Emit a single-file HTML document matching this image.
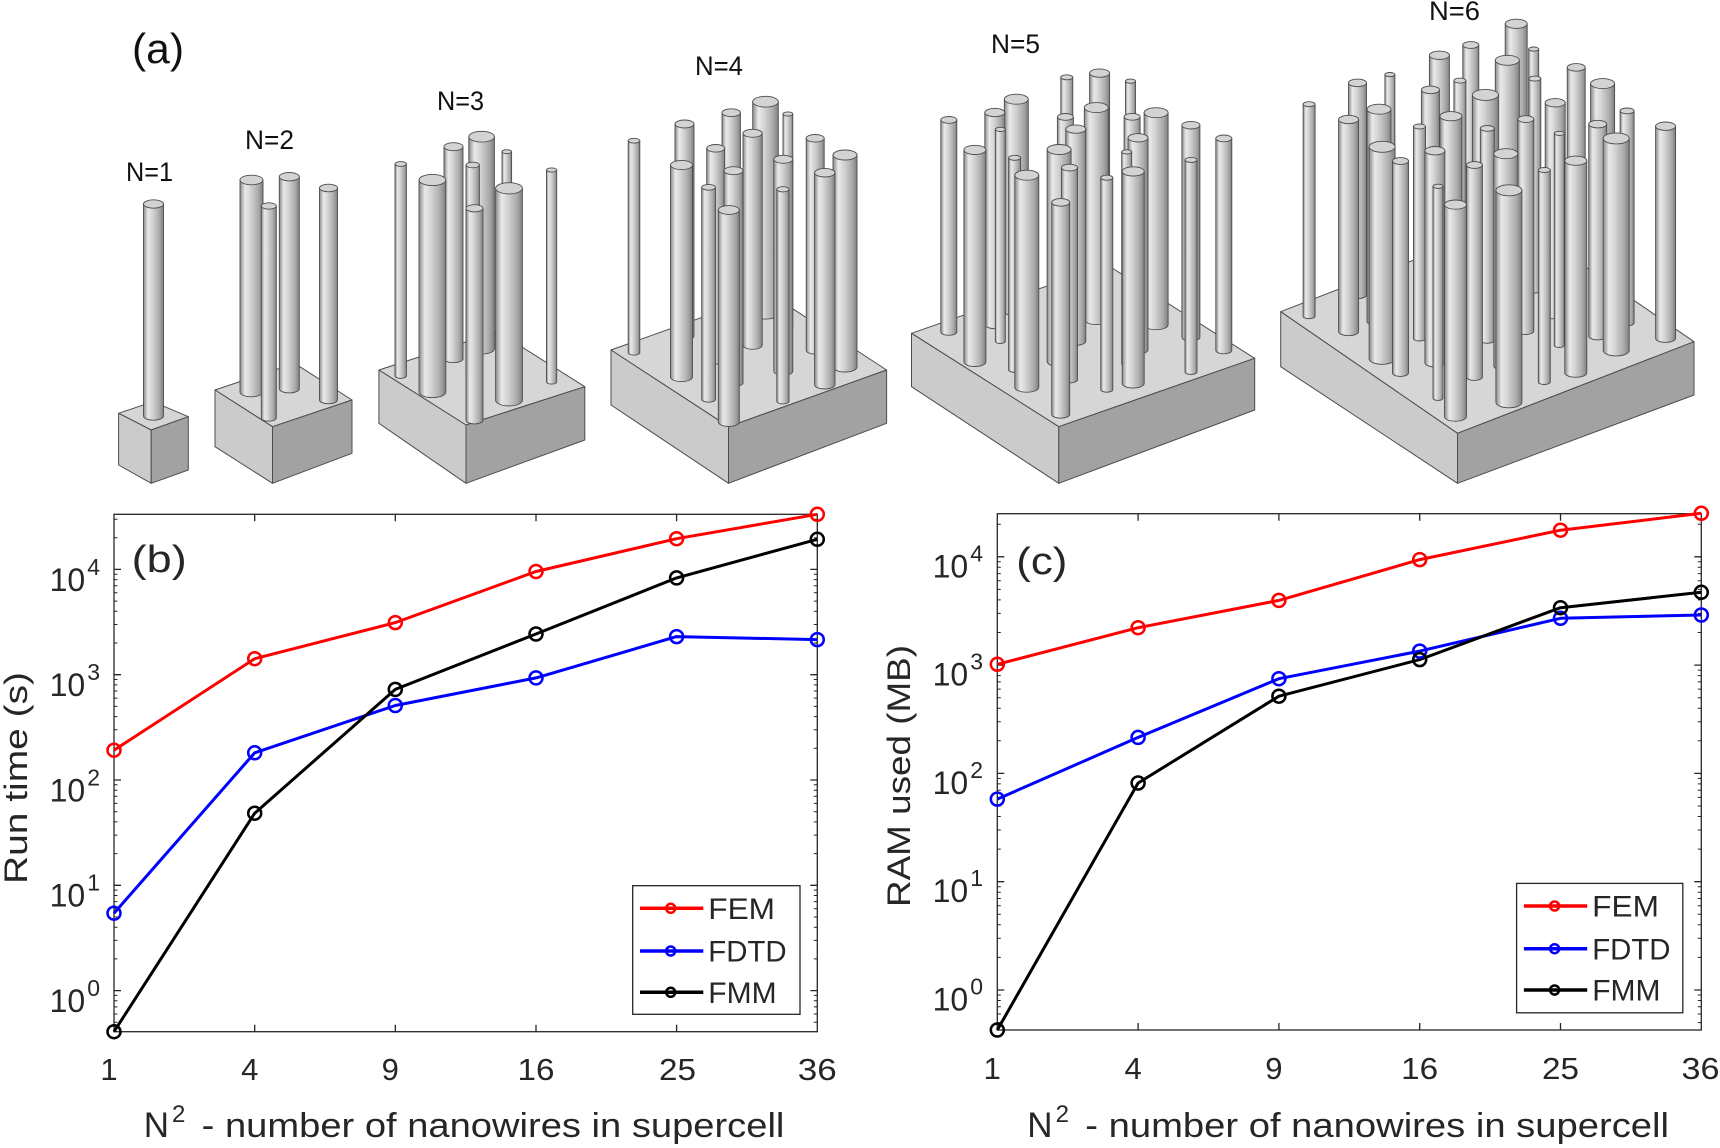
<!DOCTYPE html>
<html>
<head>
<meta charset="utf-8">
<style>
html,body{margin:0;padding:0;background:#fff;}
svg{display:block;}
.c{fill:url(#cyl);stroke:#4d4d4d;stroke-width:0.9}
.e{fill:#d3d3d3;stroke:#4d4d4d;stroke-width:0.9}
.bt{fill:#d6d6d6}
.bl{fill:#cbcbcb}
.br{fill:#a2a2a2}
.box polygon{stroke:#4d4d4d;stroke-width:1;stroke-linejoin:round}
text{font-family:"Liberation Sans",Arial,sans-serif;}
</style>
</head>
<body>
<svg width="1720" height="1148" viewBox="0 0 1720 1148" xmlns="http://www.w3.org/2000/svg">
<defs>
<linearGradient id="cyl" x1="0" x2="1" y1="0" y2="0">
<stop offset="0" stop-color="#8a8a8a"/>
<stop offset="0.22" stop-color="#e9e9e9"/>
<stop offset="0.45" stop-color="#d4d4d4"/>
<stop offset="0.8" stop-color="#a9a9a9"/>
<stop offset="1" stop-color="#7f7f7f"/>
</linearGradient>
</defs>
<rect width="1720" height="1148" fill="#fff"/>

<!-- ===== Panel (a) ===== -->
<text x="132" y="63" font-size="42" textLength="52" lengthAdjust="spacingAndGlyphs" fill="#111">(a)</text>
<g font-size="27" fill="#111">
<text x="126" y="181" textLength="47" lengthAdjust="spacingAndGlyphs">N=1</text>
<text x="245" y="149" textLength="49" lengthAdjust="spacingAndGlyphs">N=2</text>
<text x="437" y="110" textLength="47" lengthAdjust="spacingAndGlyphs">N=3</text>
<text x="695" y="75" textLength="48" lengthAdjust="spacingAndGlyphs">N=4</text>
<text x="991" y="53" textLength="49" lengthAdjust="spacingAndGlyphs">N=5</text>
<text x="1429" y="20" textLength="51" lengthAdjust="spacingAndGlyphs">N=6</text>
</g>

<!-- N=1 -->
<g class="box">
<polygon class="bt" points="118.6,413.3 153,401.7 188.3,416.7 151.2,430"/>
<polygon class="bl" points="118.6,413.3 151.2,430 151.2,483.3 118.6,465"/>
<polygon class="br" points="151.2,430 188.3,416.7 188.3,470 151.2,483.3"/>
</g>
<path class="c" d="M143.5 204V416A10 4.2 0 0 0 163.5 416V204Z"/><ellipse class="e" cx="153.5" cy="204" rx="10" ry="4.2"/>

<!-- N=2 -->
<g class="box">
<polygon class="bt" points="215,390 294.5,363.3 352,400 272.5,426.7"/>
<polygon class="bl" points="215,390 272.5,426.7 272.5,483.3 215,446.7"/>
<polygon class="br" points="272.5,426.7 352,400 352,453.3 272.5,483.3"/>
</g>
<path class="c" d="M279.3 176.7V388.7A10 4.2 0 0 0 299.3 388.7V176.7Z"/><ellipse class="e" cx="289.3" cy="176.7" rx="10" ry="4.2"/>
<path class="c" d="M240 180V392A11.5 4.8 0 0 0 263 392V180Z"/><ellipse class="e" cx="251.5" cy="180" rx="11.5" ry="4.8"/>
<path class="c" d="M319.5 188V400A9 3.8 0 0 0 337.5 400V188Z"/><ellipse class="e" cx="328.5" cy="188" rx="9" ry="3.8"/>
<path class="c" d="M261.3 206V418A7.5 3.2 0 0 0 276.3 418V206Z"/><ellipse class="e" cx="268.8" cy="206" rx="7.5" ry="3.2"/>

<!-- N=3 -->
<g class="box">
<polygon class="bt" points="378.9,370 497.7,331.7 584.8,386.7 466,425"/>
<polygon class="bl" points="378.9,370 466,425 466,483.3 378.9,423.3"/>
<polygon class="br" points="466,425 584.8,386.7 584.8,440 466,483.3"/>
</g>
<path class="c" d="M468.8 136.7V348.7A12.8 5.4 0 0 0 494.4 348.7V136.7Z"/><ellipse class="e" cx="481.6" cy="136.7" rx="12.8" ry="5.4"/>
<path class="c" d="M444 146.7V358.7A9.5 4 0 0 0 463 358.7V146.7Z"/><ellipse class="e" cx="453.5" cy="146.7" rx="9.5" ry="4"/>
<path class="c" d="M502 151.7V363.7A4.8 2 0 0 0 511.6 363.7V151.7Z"/><ellipse class="e" cx="506.8" cy="151.7" rx="4.8" ry="2"/>
<path class="c" d="M395 164V376A5.7 2.4 0 0 0 406.4 376V164Z"/><ellipse class="e" cx="400.7" cy="164" rx="5.7" ry="2.4"/>
<path class="c" d="M466 165V377A6.7 2.8 0 0 0 479.4 377V165Z"/><ellipse class="e" cx="472.7" cy="165" rx="6.7" ry="2.8"/>
<path class="c" d="M546.5 170V382A5.1 2.1 0 0 0 556.7 382V170Z"/><ellipse class="e" cx="551.6" cy="170" rx="5.1" ry="2.1"/>
<path class="c" d="M419 180V392A13.4 5.6 0 0 0 445.8 392V180Z"/><ellipse class="e" cx="432.4" cy="180" rx="13.4" ry="5.6"/>
<path class="c" d="M495.6 188.3V400.3A13.4 5.6 0 0 0 522.4 400.3V188.3Z"/><ellipse class="e" cx="509" cy="188.3" rx="13.4" ry="5.6"/>
<path class="c" d="M466 208.3V420.3A8.5 3.6 0 0 0 483 420.3V208.3Z"/><ellipse class="e" cx="474.5" cy="208.3" rx="8.5" ry="3.6"/>

<!-- N=4 -->
<g class="box">
<polygon class="bt" points="611,350 769.1,293.3 886.6,370 728.5,426.7"/>
<polygon class="bl" points="611,350 728.5,426.7 728.5,483.3 611,405"/>
<polygon class="br" points="728.5,426.7 886.6,370 886.6,423.3 728.5,483.3"/>
</g>
<path class="c" d="M752.7 101.7V313.7A12.8 5.4 0 0 0 778.3 313.7V101.7Z"/><ellipse class="e" cx="765.5" cy="101.7" rx="12.8" ry="5.4"/>
<path class="c" d="M722 112.7V324.7A9.2 3.9 0 0 0 740.4 324.7V112.7Z"/><ellipse class="e" cx="731.2" cy="112.7" rx="9.2" ry="3.9"/>
<path class="c" d="M783 114V326A4.9 2.1 0 0 0 792.8 326V114Z"/><ellipse class="e" cx="787.9" cy="114" rx="4.9" ry="2.1"/>
<path class="c" d="M675 124V336A9.5 4 0 0 0 694 336V124Z"/><ellipse class="e" cx="684.5" cy="124" rx="9.5" ry="4"/>
<path class="c" d="M743 133.3V345.3A9.6 4 0 0 0 762.2 345.3V133.3Z"/><ellipse class="e" cx="752.6" cy="133.3" rx="9.6" ry="4"/>
<path class="c" d="M806.2 138.3V350.3A9 3.8 0 0 0 824.2 350.3V138.3Z"/><ellipse class="e" cx="815.2" cy="138.3" rx="9" ry="3.8"/>
<path class="c" d="M628.2 140.7V352.7A5.8 2.4 0 0 0 639.8 352.7V140.7Z"/><ellipse class="e" cx="634" cy="140.7" rx="5.8" ry="2.4"/>
<path class="c" d="M706.7 148.3V360.3A9 3.8 0 0 0 724.7 360.3V148.3Z"/><ellipse class="e" cx="715.7" cy="148.3" rx="9" ry="3.8"/>
<path class="c" d="M833 155V367A12 5 0 0 0 857 367V155Z"/><ellipse class="e" cx="845" cy="155" rx="12" ry="5"/>
<path class="c" d="M773.8 159.3V371.3A9.5 4 0 0 0 792.8 371.3V159.3Z"/><ellipse class="e" cx="783.3" cy="159.3" rx="9.5" ry="4"/>
<path class="c" d="M670.5 165V377A11 4.6 0 0 0 692.5 377V165Z"/><ellipse class="e" cx="681.5" cy="165" rx="11" ry="4.6"/>
<path class="c" d="M724 170.7V382.7A9.5 4 0 0 0 743 382.7V170.7Z"/><ellipse class="e" cx="733.5" cy="170.7" rx="9.5" ry="4"/>
<path class="c" d="M814.6 172.7V384.7A10.2 4.3 0 0 0 835 384.7V172.7Z"/><ellipse class="e" cx="824.8" cy="172.7" rx="10.2" ry="4.3"/>
<path class="c" d="M701.7 187.3V399.3A6.9 2.9 0 0 0 715.5 399.3V187.3Z"/><ellipse class="e" cx="708.6" cy="187.3" rx="6.9" ry="2.9"/>
<path class="c" d="M776.8 189.3V401.3A6.1 2.6 0 0 0 789 401.3V189.3Z"/><ellipse class="e" cx="782.9" cy="189.3" rx="6.1" ry="2.6"/>
<path class="c" d="M718.3 210V422A10.5 4.4 0 0 0 739.3 422V210Z"/><ellipse class="e" cx="728.8" cy="210" rx="10.5" ry="4.4"/>

<!-- N=5 -->
<g class="box">
<polygon class="bt" points="911.5,333.3 1107.4,265 1254.7,358.3 1058.8,426.7"/>
<polygon class="bl" points="911.5,333.3 1058.8,426.7 1058.8,483.3 911.5,386.7"/>
<polygon class="br" points="1058.8,426.7 1254.7,358.3 1254.7,410 1058.8,483.3"/>
</g>
<path class="c" d="M1089.6 73.1V285.1A10 4.2 0 0 0 1109.6 285.1V73.1Z"/><ellipse class="e" cx="1099.6" cy="73.1" rx="10" ry="4.2"/>
<path class="c" d="M1060.8 77.3V289.3A6 2.5 0 0 0 1072.8 289.3V77.3Z"/><ellipse class="e" cx="1066.8" cy="77.3" rx="6" ry="2.5"/>
<path class="c" d="M1125.5 81.2V293.2A5 2.1 0 0 0 1135.5 293.2V81.2Z"/><ellipse class="e" cx="1130.5" cy="81.2" rx="5" ry="2.1"/>
<path class="c" d="M1004.3 99.2V311.2A12 5 0 0 0 1028.3 311.2V99.2Z"/><ellipse class="e" cx="1016.3" cy="99.2" rx="12" ry="5"/>
<path class="c" d="M1084.3 107.6V319.6A12 5 0 0 0 1108.3 319.6V107.6Z"/><ellipse class="e" cx="1096.3" cy="107.6" rx="12" ry="5"/>
<path class="c" d="M984.8 112.5V324.5A10 4.2 0 0 0 1004.8 324.5V112.5Z"/><ellipse class="e" cx="994.8" cy="112.5" rx="10" ry="4.2"/>
<path class="c" d="M1144.1 112.7V324.7A12 5 0 0 0 1168.1 324.7V112.7Z"/><ellipse class="e" cx="1156.1" cy="112.7" rx="12" ry="5"/>
<path class="c" d="M1124.1 116.8V328.8A8 3.4 0 0 0 1140.1 328.8V116.8Z"/><ellipse class="e" cx="1132.1" cy="116.8" rx="8" ry="3.4"/>
<path class="c" d="M1057.4 116.9V328.9A8 3.4 0 0 0 1073.4 328.9V116.9Z"/><ellipse class="e" cx="1065.4" cy="116.9" rx="8" ry="3.4"/>
<path class="c" d="M940.8 119.9V331.9A8 3.4 0 0 0 956.8 331.9V119.9Z"/><ellipse class="e" cx="948.8" cy="119.9" rx="8" ry="3.4"/>
<path class="c" d="M1181.9 125.2V337.2A9 3.8 0 0 0 1199.9 337.2V125.2Z"/><ellipse class="e" cx="1190.9" cy="125.2" rx="9" ry="3.8"/>
<path class="c" d="M1065.8 129.1V341.1A10 4.2 0 0 0 1085.8 341.1V129.1Z"/><ellipse class="e" cx="1075.8" cy="129.1" rx="10" ry="4.2"/>
<path class="c" d="M995.3 129.4V341.4A5 2.1 0 0 0 1005.3 341.4V129.4Z"/><ellipse class="e" cx="1000.3" cy="129.4" rx="5" ry="2.1"/>
<path class="c" d="M1128 137.8V349.8A10 4.2 0 0 0 1148 349.8V137.8Z"/><ellipse class="e" cx="1138" cy="137.8" rx="10" ry="4.2"/>
<path class="c" d="M1215.8 138.4V350.4A8 3.4 0 0 0 1231.8 350.4V138.4Z"/><ellipse class="e" cx="1223.8" cy="138.4" rx="8" ry="3.4"/>
<path class="c" d="M1047.1 149.5V361.5A12 5 0 0 0 1071.1 361.5V149.5Z"/><ellipse class="e" cx="1059.1" cy="149.5" rx="12" ry="5"/>
<path class="c" d="M963.9 149.9V361.9A11 4.6 0 0 0 985.9 361.9V149.9Z"/><ellipse class="e" cx="974.9" cy="149.9" rx="11" ry="4.6"/>
<path class="c" d="M1121.7 151.9V363.9A5 2.1 0 0 0 1131.7 363.9V151.9Z"/><ellipse class="e" cx="1126.7" cy="151.9" rx="5" ry="2.1"/>
<path class="c" d="M1008.6 157.8V369.8A6 2.5 0 0 0 1020.6 369.8V157.8Z"/><ellipse class="e" cx="1014.6" cy="157.8" rx="6" ry="2.5"/>
<path class="c" d="M1185 159.9V371.9A6 2.5 0 0 0 1197 371.9V159.9Z"/><ellipse class="e" cx="1191" cy="159.9" rx="6" ry="2.5"/>
<path class="c" d="M1061.5 167.6V379.6A8 3.4 0 0 0 1077.5 379.6V167.6Z"/><ellipse class="e" cx="1069.5" cy="167.6" rx="8" ry="3.4"/>
<path class="c" d="M1122.2 171.4V383.4A11 4.6 0 0 0 1144.2 383.4V171.4Z"/><ellipse class="e" cx="1133.2" cy="171.4" rx="11" ry="4.6"/>
<path class="c" d="M1014.8 175.2V387.2A12 5 0 0 0 1038.8 387.2V175.2Z"/><ellipse class="e" cx="1026.8" cy="175.2" rx="12" ry="5"/>
<path class="c" d="M1100.8 177.7V389.7A6 2.5 0 0 0 1112.8 389.7V177.7Z"/><ellipse class="e" cx="1106.8" cy="177.7" rx="6" ry="2.5"/>
<path class="c" d="M1051.7 202.4V414.4A9 3.8 0 0 0 1069.7 414.4V202.4Z"/><ellipse class="e" cx="1060.7" cy="202.4" rx="9" ry="3.8"/>

<!-- N=6 -->
<g class="box">
<polygon class="bt" points="1280.7,311.7 1517.2,220 1694,341.7 1457.5,433.3"/>
<polygon class="bl" points="1280.7,311.7 1457.5,433.3 1457.5,483.3 1280.7,366.7"/>
<polygon class="br" points="1457.5,433.3 1694,341.7 1694,395 1457.5,483.3"/>
</g>
<path class="c" d="M1505.2 23.8V235.8A11 4.6 0 0 0 1527.2 235.8V23.8Z"/><ellipse class="e" cx="1516.2" cy="23.8" rx="11" ry="4.6"/>
<path class="c" d="M1462.8 45V257A8 3.4 0 0 0 1478.8 257V45Z"/><ellipse class="e" cx="1470.8" cy="45" rx="8" ry="3.4"/>
<path class="c" d="M1528.7 49.1V261.1A5 2.1 0 0 0 1538.7 261.1V49.1Z"/><ellipse class="e" cx="1533.7" cy="49.1" rx="5" ry="2.1"/>
<path class="c" d="M1429.4 55.3V267.3A10 4.2 0 0 0 1449.4 267.3V55.3Z"/><ellipse class="e" cx="1439.4" cy="55.3" rx="10" ry="4.2"/>
<path class="c" d="M1495.3 60.3V272.3A12 5 0 0 0 1519.3 272.3V60.3Z"/><ellipse class="e" cx="1507.3" cy="60.3" rx="12" ry="5"/>
<path class="c" d="M1567.2 67.4V279.4A9 3.8 0 0 0 1585.2 279.4V67.4Z"/><ellipse class="e" cx="1576.2" cy="67.4" rx="9" ry="3.8"/>
<path class="c" d="M1384.9 74.6V286.6A5 2.1 0 0 0 1394.9 286.6V74.6Z"/><ellipse class="e" cx="1389.9" cy="74.6" rx="5" ry="2.1"/>
<path class="c" d="M1528.8 78.6V290.6A6 2.5 0 0 0 1540.8 290.6V78.6Z"/><ellipse class="e" cx="1534.8" cy="78.6" rx="6" ry="2.5"/>
<path class="c" d="M1453.9 80.6V292.6A6 2.5 0 0 0 1465.9 292.6V80.6Z"/><ellipse class="e" cx="1459.9" cy="80.6" rx="6" ry="2.5"/>
<path class="c" d="M1348.5 82.9V294.9A9 3.8 0 0 0 1366.5 294.9V82.9Z"/><ellipse class="e" cx="1357.5" cy="82.9" rx="9" ry="3.8"/>
<path class="c" d="M1590.6 83.6V295.6A12 5 0 0 0 1614.6 295.6V83.6Z"/><ellipse class="e" cx="1602.6" cy="83.6" rx="12" ry="5"/>
<path class="c" d="M1421.4 89.9V301.9A9 3.8 0 0 0 1439.4 301.9V89.9Z"/><ellipse class="e" cx="1430.4" cy="89.9" rx="9" ry="3.8"/>
<path class="c" d="M1472.4 94.9V306.9A13 5.5 0 0 0 1498.4 306.9V94.9Z"/><ellipse class="e" cx="1485.4" cy="94.9" rx="13" ry="5.5"/>
<path class="c" d="M1545.2 102.8V314.8A10 4.2 0 0 0 1565.2 314.8V102.8Z"/><ellipse class="e" cx="1555.2" cy="102.8" rx="10" ry="4.2"/>
<path class="c" d="M1303.1 104.2V316.2A6 2.5 0 0 0 1315.1 316.2V104.2Z"/><ellipse class="e" cx="1309.1" cy="104.2" rx="6" ry="2.5"/>
<path class="c" d="M1367 109.2V321.2A12 5 0 0 0 1391 321.2V109.2Z"/><ellipse class="e" cx="1379" cy="109.2" rx="12" ry="5"/>
<path class="c" d="M1620.1 110.9V322.9A7 2.9 0 0 0 1634.1 322.9V110.9Z"/><ellipse class="e" cx="1627.1" cy="110.9" rx="7" ry="2.9"/>
<path class="c" d="M1439.9 116.2V328.2A11 4.6 0 0 0 1461.9 328.2V116.2Z"/><ellipse class="e" cx="1450.9" cy="116.2" rx="11" ry="4.6"/>
<path class="c" d="M1517.8 119.1V331.1A8 3.4 0 0 0 1533.8 331.1V119.1Z"/><ellipse class="e" cx="1525.8" cy="119.1" rx="8" ry="3.4"/>
<path class="c" d="M1338.6 119.5V331.5A10 4.2 0 0 0 1358.6 331.5V119.5Z"/><ellipse class="e" cx="1348.6" cy="119.5" rx="10" ry="4.2"/>
<path class="c" d="M1588.7 124.1V336.1A9 3.8 0 0 0 1606.7 336.1V124.1Z"/><ellipse class="e" cx="1597.7" cy="124.1" rx="9" ry="3.8"/>
<path class="c" d="M1655.6 126.2V338.2A10 4.2 0 0 0 1675.6 338.2V126.2Z"/><ellipse class="e" cx="1665.6" cy="126.2" rx="10" ry="4.2"/>
<path class="c" d="M1413.5 126.5V338.5A6 2.5 0 0 0 1425.5 338.5V126.5Z"/><ellipse class="e" cx="1419.5" cy="126.5" rx="6" ry="2.5"/>
<path class="c" d="M1480.3 128.4V340.4A7 2.9 0 0 0 1494.3 340.4V128.4Z"/><ellipse class="e" cx="1487.3" cy="128.4" rx="7" ry="2.9"/>
<path class="c" d="M1554.3 133.4V345.4A5 2.1 0 0 0 1564.3 345.4V133.4Z"/><ellipse class="e" cx="1559.3" cy="133.4" rx="5" ry="2.1"/>
<path class="c" d="M1603.2 138.4V350.4A13 5.5 0 0 0 1629.2 350.4V138.4Z"/><ellipse class="e" cx="1616.2" cy="138.4" rx="13" ry="5.5"/>
<path class="c" d="M1369.1 146.8V358.8A13 5.5 0 0 0 1395.1 358.8V146.8Z"/><ellipse class="e" cx="1382.1" cy="146.8" rx="13" ry="5.5"/>
<path class="c" d="M1424.9 150.7V362.7A10 4.2 0 0 0 1444.9 362.7V150.7Z"/><ellipse class="e" cx="1434.9" cy="150.7" rx="10" ry="4.2"/>
<path class="c" d="M1493.8 153.7V365.7A12 5 0 0 0 1517.8 365.7V153.7Z"/><ellipse class="e" cx="1505.8" cy="153.7" rx="12" ry="5"/>
<path class="c" d="M1564.8 160.7V372.7A11 4.6 0 0 0 1586.8 372.7V160.7Z"/><ellipse class="e" cx="1575.8" cy="160.7" rx="11" ry="4.6"/>
<path class="c" d="M1392.5 161V373A8 3.4 0 0 0 1408.5 373V161Z"/><ellipse class="e" cx="1400.5" cy="161" rx="8" ry="3.4"/>
<path class="c" d="M1466.4 165V377A8 3.4 0 0 0 1482.4 377V165Z"/><ellipse class="e" cx="1474.4" cy="165" rx="8" ry="3.4"/>
<path class="c" d="M1538.3 170V382A6 2.5 0 0 0 1550.3 382V170Z"/><ellipse class="e" cx="1544.3" cy="170" rx="6" ry="2.5"/>
<path class="c" d="M1433 186.3V398.3A5 2.1 0 0 0 1443 398.3V186.3Z"/><ellipse class="e" cx="1438" cy="186.3" rx="5" ry="2.1"/>
<path class="c" d="M1495.9 190.3V402.3A13 5.5 0 0 0 1521.9 402.3V190.3Z"/><ellipse class="e" cx="1508.9" cy="190.3" rx="13" ry="5.5"/>
<path class="c" d="M1444.5 204.6V416.6A11 4.6 0 0 0 1466.5 416.6V204.6Z"/><ellipse class="e" cx="1455.5" cy="204.6" rx="11" ry="4.6"/>

<!-- ===== Panel (b) ===== -->
<g stroke="#262626" stroke-width="1.3" fill="none">
<rect x="114" y="514.3" width="703.3" height="517.4"/>
<path d="M114 990.6h7M114 885.3h7M114 780h7M114 674.7h7M114 569.4h7M817.3 990.6h-7M817.3 885.3h-7M817.3 780h-7M817.3 674.7h-7M817.3 569.4h-7
M254.7 1031.7v-7M395.3 1031.7v-7M536 1031.7v-7M676.6 1031.7v-7M254.7 514.3v7M395.3 514.3v7M536 514.3v7M676.6 514.3v7"/>
<path stroke-width="1" d="M114 1022.3h3.5M114 1014h3.5M114 1006.9h3.5M114 1000.8h3.5M114 995.4h3.5M114 958.9h3.5M114 940.4h3.5M114 927.2h3.5M114 917h3.5M114 908.7h3.5M114 901.6h3.5M114 895.5h3.5M114 890.1h3.5M114 853.6h3.5M114 835.1h3.5M114 821.9h3.5M114 811.7h3.5M114 803.4h3.5M114 796.3h3.5M114 790.2h3.5M114 784.8h3.5M114 748.3h3.5M114 729.8h3.5M114 716.6h3.5M114 706.4h3.5M114 698.1h3.5M114 691h3.5M114 684.9h3.5M114 679.5h3.5M114 643h3.5M114 624.5h3.5M114 611.3h3.5M114 601.1h3.5M114 592.8h3.5M114 585.7h3.5M114 579.6h3.5M114 574.2h3.5M114 537.7h3.5M114 519.2h3.5
M817.3 1022.3h-3.5M817.3 1014h-3.5M817.3 1006.9h-3.5M817.3 1000.8h-3.5M817.3 995.4h-3.5M817.3 958.9h-3.5M817.3 940.4h-3.5M817.3 927.2h-3.5M817.3 917h-3.5M817.3 908.7h-3.5M817.3 901.6h-3.5M817.3 895.5h-3.5M817.3 890.1h-3.5M817.3 853.6h-3.5M817.3 835.1h-3.5M817.3 821.9h-3.5M817.3 811.7h-3.5M817.3 803.4h-3.5M817.3 796.3h-3.5M817.3 790.2h-3.5M817.3 784.8h-3.5M817.3 748.3h-3.5M817.3 729.8h-3.5M817.3 716.6h-3.5M817.3 706.4h-3.5M817.3 698.1h-3.5M817.3 691h-3.5M817.3 684.9h-3.5M817.3 679.5h-3.5M817.3 643h-3.5M817.3 624.5h-3.5M817.3 611.3h-3.5M817.3 601.1h-3.5M817.3 592.8h-3.5M817.3 585.7h-3.5M817.3 579.6h-3.5M817.3 574.2h-3.5M817.3 537.7h-3.5M817.3 519.2h-3.5"/>
</g>
<g fill="#262626" font-size="32">
<text x="100" y="1012" text-anchor="end">10<tspan dx="2" dy="-16" font-size="23">0</tspan></text>
<text x="100" y="906.7" text-anchor="end">10<tspan dx="2" dy="-16" font-size="23">1</tspan></text>
<text x="100" y="801.4" text-anchor="end">10<tspan dx="2" dy="-16" font-size="23">2</tspan></text>
<text x="100" y="696.1" text-anchor="end">10<tspan dx="2" dy="-16" font-size="23">3</tspan></text>
<text x="100" y="590.8" text-anchor="end">10<tspan dx="2" dy="-16" font-size="23">4</tspan></text>
</g>
<g fill="#262626" font-size="31">
<text x="109" y="1080" text-anchor="middle">1</text>
<text x="249.7" y="1080" text-anchor="middle">4</text>
<text x="390.3" y="1080" text-anchor="middle">9</text>
<text x="536" y="1080" text-anchor="middle" textLength="37" lengthAdjust="spacingAndGlyphs">16</text>
<text x="677.5" y="1080" text-anchor="middle" textLength="37" lengthAdjust="spacingAndGlyphs">25</text>
<text x="817.3" y="1080" text-anchor="middle" textLength="39" lengthAdjust="spacingAndGlyphs">36</text>
</g>
<g fill="#262626">
<text x="143.7" y="1137" font-size="35">N</text>
<text x="172" y="1122" font-size="24">2</text>
<text x="201.7" y="1137" font-size="34" textLength="582.7" lengthAdjust="spacingAndGlyphs">- number of nanowires in supercell</text>
<text transform="translate(27,778) rotate(-90)" x="0" y="0" font-size="32" text-anchor="middle" textLength="212" lengthAdjust="spacingAndGlyphs">Run time (s)</text>
<text x="131.7" y="572" font-size="38" textLength="55" lengthAdjust="spacingAndGlyphs">(b)</text>
</g>
<g fill="none" stroke-width="3" stroke-linejoin="round">
<polyline stroke="#ff0000" points="114,750.2 254.7,658.7 395.3,622.6 536,571.5 676.6,538.7 817.3,514.3"/>
<polyline stroke="#0000ff" points="114,913.2 254.7,752.8 395.3,705.5 536,677.9 676.6,636.6 817.3,639.6"/>
<polyline stroke="#000000" points="114,1031.7 254.7,813.2 395.3,689.4 536,634 676.6,577.9 817.3,539.3"/>
</g>
<g fill="none" stroke-width="2.5">
<g stroke="#ff0000"><circle cx="114" cy="750.2" r="6.5"/><circle cx="254.7" cy="658.7" r="6.5"/><circle cx="395.3" cy="622.6" r="6.5"/><circle cx="536" cy="571.5" r="6.5"/><circle cx="676.6" cy="538.7" r="6.5"/><circle cx="817.3" cy="514.3" r="6.5"/></g>
<g stroke="#0000ff"><circle cx="114" cy="913.2" r="6.5"/><circle cx="254.7" cy="752.8" r="6.5"/><circle cx="395.3" cy="705.5" r="6.5"/><circle cx="536" cy="677.9" r="6.5"/><circle cx="676.6" cy="636.6" r="6.5"/><circle cx="817.3" cy="639.6" r="6.5"/></g>
<g stroke="#000000"><circle cx="114" cy="1031.7" r="6.5"/><circle cx="254.7" cy="813.2" r="6.5"/><circle cx="395.3" cy="689.4" r="6.5"/><circle cx="536" cy="634" r="6.5"/><circle cx="676.6" cy="577.9" r="6.5"/><circle cx="817.3" cy="539.3" r="6.5"/></g>
</g>
<!-- legend b -->
<rect x="632.7" y="885.7" width="167.3" height="128.6" fill="#fff" stroke="#262626" stroke-width="1.3"/>
<g fill="none" stroke-width="3.5">
<path stroke="#ff0000" d="M640 908.3H703.3"/><circle stroke="#ff0000" stroke-width="2.5" cx="670.7" cy="908.3" r="4.5"/>
<path stroke="#0000ff" d="M640 951H703.3"/><circle stroke="#0000ff" stroke-width="2.5" cx="670.7" cy="951" r="4.5"/>
<path stroke="#000000" d="M640 992.3H703.3"/><circle stroke="#000000" stroke-width="2.5" cx="670.7" cy="992.3" r="4.5"/>
</g>
<g fill="#262626" font-size="30">
<text x="708.3" y="919" textLength="66.7" lengthAdjust="spacingAndGlyphs">FEM</text>
<text x="708.3" y="961.7" textLength="78.3" lengthAdjust="spacingAndGlyphs">FDTD</text>
<text x="708.3" y="1003" textLength="68.3" lengthAdjust="spacingAndGlyphs">FMM</text>
</g>

<!-- ===== Panel (c) ===== -->
<g stroke="#262626" stroke-width="1.3" fill="none">
<rect x="997.3" y="513.7" width="704" height="516.3"/>
<path d="M997.3 990h7M997.3 881.7h7M997.3 773.4h7M997.3 665.1h7M997.3 556.8h7M1701.3 990h-7M1701.3 881.7h-7M1701.3 773.4h-7M1701.3 665.1h-7M1701.3 556.8h-7
M1138.1 1030v-7M1278.9 1030v-7M1419.7 1030v-7M1560.5 1030v-7M1138.1 513.7v7M1278.9 513.7v7M1419.7 513.7v7M1560.5 513.7v7"/>
<path stroke-width="1" d="M997.3 1022.6h3.5M997.3 1014h3.5M997.3 1006.8h3.5M997.3 1000.5h3.5M997.3 995h3.5M997.3 957.4h3.5M997.3 938.3h3.5M997.3 924.8h3.5M997.3 914.3h3.5M997.3 905.7h3.5M997.3 898.5h3.5M997.3 892.2h3.5M997.3 886.7h3.5M997.3 849.1h3.5M997.3 830h3.5M997.3 816.5h3.5M997.3 806h3.5M997.3 797.4h3.5M997.3 790.2h3.5M997.3 783.9h3.5M997.3 778.4h3.5M997.3 740.8h3.5M997.3 721.7h3.5M997.3 708.2h3.5M997.3 697.7h3.5M997.3 689.1h3.5M997.3 681.9h3.5M997.3 675.6h3.5M997.3 670.1h3.5M997.3 632.5h3.5M997.3 613.4h3.5M997.3 599.9h3.5M997.3 589.4h3.5M997.3 580.8h3.5M997.3 573.6h3.5M997.3 567.3h3.5M997.3 561.8h3.5M997.3 524.2h3.5
M1701.3 1022.6h-3.5M1701.3 1014h-3.5M1701.3 1006.8h-3.5M1701.3 1000.5h-3.5M1701.3 995h-3.5M1701.3 957.4h-3.5M1701.3 938.3h-3.5M1701.3 924.8h-3.5M1701.3 914.3h-3.5M1701.3 905.7h-3.5M1701.3 898.5h-3.5M1701.3 892.2h-3.5M1701.3 886.7h-3.5M1701.3 849.1h-3.5M1701.3 830h-3.5M1701.3 816.5h-3.5M1701.3 806h-3.5M1701.3 797.4h-3.5M1701.3 790.2h-3.5M1701.3 783.9h-3.5M1701.3 778.4h-3.5M1701.3 740.8h-3.5M1701.3 721.7h-3.5M1701.3 708.2h-3.5M1701.3 697.7h-3.5M1701.3 689.1h-3.5M1701.3 681.9h-3.5M1701.3 675.6h-3.5M1701.3 670.1h-3.5M1701.3 632.5h-3.5M1701.3 613.4h-3.5M1701.3 599.9h-3.5M1701.3 589.4h-3.5M1701.3 580.8h-3.5M1701.3 573.6h-3.5M1701.3 567.3h-3.5M1701.3 561.8h-3.5M1701.3 524.2h-3.5"/>
</g>
<g fill="#262626" font-size="32">
<text x="983" y="1010.5" text-anchor="end">10<tspan dx="2" dy="-16" font-size="23">0</tspan></text>
<text x="983" y="902.2" text-anchor="end">10<tspan dx="2" dy="-16" font-size="23">1</tspan></text>
<text x="983" y="793.9" text-anchor="end">10<tspan dx="2" dy="-16" font-size="23">2</tspan></text>
<text x="983" y="685.6" text-anchor="end">10<tspan dx="2" dy="-16" font-size="23">3</tspan></text>
<text x="983" y="577.3" text-anchor="end">10<tspan dx="2" dy="-16" font-size="23">4</tspan></text>
</g>
<g fill="#262626" font-size="31">
<text x="992.3" y="1079" text-anchor="middle">1</text>
<text x="1133.1" y="1079" text-anchor="middle">4</text>
<text x="1273.9" y="1079" text-anchor="middle">9</text>
<text x="1419.7" y="1079" text-anchor="middle" textLength="37" lengthAdjust="spacingAndGlyphs">16</text>
<text x="1560.5" y="1079" text-anchor="middle" textLength="37" lengthAdjust="spacingAndGlyphs">25</text>
<text x="1700.5" y="1079" text-anchor="middle" textLength="38" lengthAdjust="spacingAndGlyphs">36</text>
</g>
<g fill="#262626">
<text x="1027.3" y="1137" font-size="35">N</text>
<text x="1055.6" y="1122" font-size="24">2</text>
<text x="1085.3" y="1137" font-size="34" textLength="583.7" lengthAdjust="spacingAndGlyphs">- number of nanowires in supercell</text>
<text transform="translate(910,776) rotate(-90)" x="0" y="0" font-size="32" text-anchor="middle" textLength="262" lengthAdjust="spacingAndGlyphs">RAM used (MB)</text>
<text x="1016.3" y="574" font-size="38" textLength="51" lengthAdjust="spacingAndGlyphs">(c)</text>
</g>
<g fill="none" stroke-width="3" stroke-linejoin="round">
<polyline stroke="#ff0000" points="997.3,664.3 1138.1,627.7 1278.9,600.4 1419.7,559.6 1560.5,530.2 1701.3,513.3"/>
<polyline stroke="#0000ff" points="997.3,799.1 1138.1,737.4 1278.9,678.7 1419.7,651.1 1560.5,618.3 1701.3,615"/>
<polyline stroke="#000000" points="997.3,1030 1138.1,783 1278.9,696.2 1419.7,659.6 1560.5,607.7 1701.3,592.3"/>
</g>
<g fill="none" stroke-width="2.5">
<g stroke="#ff0000"><circle cx="997.3" cy="664.3" r="6.5"/><circle cx="1138.1" cy="627.7" r="6.5"/><circle cx="1278.9" cy="600.4" r="6.5"/><circle cx="1419.7" cy="559.6" r="6.5"/><circle cx="1560.5" cy="530.2" r="6.5"/><circle cx="1701.3" cy="513.3" r="6.5"/></g>
<g stroke="#0000ff"><circle cx="997.3" cy="799.1" r="6.5"/><circle cx="1138.1" cy="737.4" r="6.5"/><circle cx="1278.9" cy="678.7" r="6.5"/><circle cx="1419.7" cy="651.1" r="6.5"/><circle cx="1560.5" cy="618.3" r="6.5"/><circle cx="1701.3" cy="615" r="6.5"/></g>
<g stroke="#000000"><circle cx="997.3" cy="1030" r="6.5"/><circle cx="1138.1" cy="783" r="6.5"/><circle cx="1278.9" cy="696.2" r="6.5"/><circle cx="1419.7" cy="659.6" r="6.5"/><circle cx="1560.5" cy="607.7" r="6.5"/><circle cx="1701.3" cy="592.3" r="6.5"/></g>
</g>
<!-- legend c -->
<rect x="1516.6" y="883.4" width="166.2" height="129.4" fill="#fff" stroke="#262626" stroke-width="1.3"/>
<g fill="none" stroke-width="3.5">
<path stroke="#ff0000" d="M1523.9 906H1587.2"/><circle stroke="#ff0000" stroke-width="2.5" cx="1554.6" cy="906" r="4.5"/>
<path stroke="#0000ff" d="M1523.9 948.7H1587.2"/><circle stroke="#0000ff" stroke-width="2.5" cx="1554.6" cy="948.7" r="4.5"/>
<path stroke="#000000" d="M1523.9 990H1587.2"/><circle stroke="#000000" stroke-width="2.5" cx="1554.6" cy="990" r="4.5"/>
</g>
<g fill="#262626" font-size="30">
<text x="1592.2" y="916.7" textLength="66.7" lengthAdjust="spacingAndGlyphs">FEM</text>
<text x="1592.2" y="959.4" textLength="78.3" lengthAdjust="spacingAndGlyphs">FDTD</text>
<text x="1592.2" y="1000.7" textLength="68.3" lengthAdjust="spacingAndGlyphs">FMM</text>
</g>
</svg>
</body>
</html>
